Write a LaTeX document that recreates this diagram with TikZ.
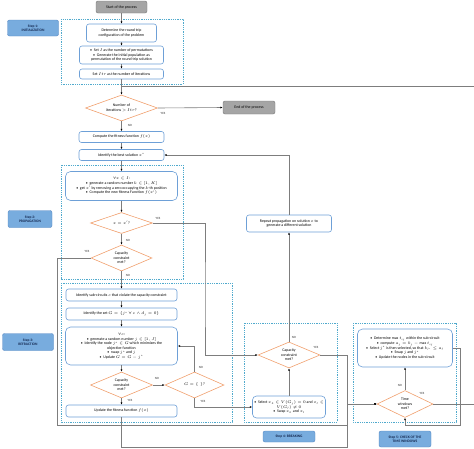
\RequirePackage{fix-cm}
\documentclass[tikz,border=0pt]{standalone}
\usepackage{amsmath}
\usepackage{fontspec}
\setmainfont{Carlito}
\usetikzlibrary{shapes.geometric,arrows.meta,positioning}
\definecolor{BoxBlue}{RGB}{110,160,215}
\definecolor{DiaOrange}{RGB}{241,160,110}
\definecolor{StepBlue}{RGB}{120,172,222}
\definecolor{StepEdge}{RGB}{85,135,195}
\definecolor{AreaBlue}{RGB}{80,170,205}
\definecolor{TermGray}{RGB}{165,165,165}
\definecolor{TermEdge}{RGB}{120,120,120}
\definecolor{LineGray}{RGB}{125,125,125}
\definecolor{StepText}{RGB}{20,40,80}

\begin{document}
\begin{tikzpicture}[x=1pt,y=-1pt,
  box/.style={draw=BoxBlue,fill=white,rounded corners=2.5pt,line width=0.6pt,
              align=center,inner sep=0.5pt,font=\fontsize{3.9}{4.6}\selectfont},
  dia/.style={diamond,draw=DiaOrange,fill=white,line width=0.6pt,inner sep=0pt,
              align=center,font=\fontsize{3.9}{4.6}\selectfont},
  term/.style={draw=TermEdge,fill=TermGray,rounded corners=2pt,line width=0.4pt,
               align=center,inner sep=0.5pt,font=\fontsize{3.9}{4.6}\selectfont},
  stepl/.style={draw=StepEdge,fill=StepBlue,rounded corners=2pt,line width=0.4pt,
                align=center,inner sep=0.5pt,text=StepText,
                font=\fontsize{3.6}{4.3}\selectfont\bfseries},
  area/.style={draw=AreaBlue,line width=0.5pt,dash pattern=on 1pt off 0.8pt},
  arr/.style={-{Latex[length=2.4pt,width=2pt,color=black]},line width=0.6pt,LineGray},
  ln/.style={line width=0.6pt,LineGray},
  lbl/.style={font=\fontsize{3.2}{3.8}\selectfont,text=black!80,inner sep=0pt},
]
\useasboundingbox (0,0) rectangle (474,448);
% dashed step areas
\draw[area] (61,19) rectangle (183,84);
\draw[area] (61,165) rectangle (183,279);
\draw[area] (61,283) rectangle (232,422);
\draw[area] (244,323) rectangle (337,422);
\draw[area] (353,323) rectangle (456,422);
% step labels
\node[stepl,minimum width=51pt,minimum height=16pt] (step1) at (33,28) {Step 1:\\INITIALIZATION};
\node[stepl,minimum width=44pt,minimum height=17pt] (step2) at (30,219) {Step 2:\\PROPAGATION};
\node[stepl,minimum width=51pt,minimum height=17pt] (step3) at (28,342) {Step 3:\\REFRACTION};
\node[stepl,minimum width=52pt,minimum height=11pt] (step4) at (289,436.5) {Step 4: BREAKING};
\node[stepl,minimum width=52pt,minimum height=16pt] (step5) at (405,439) {Step 5: CHECK OF THE\\TIME WINDOWS};
% step 1
\node[term,minimum width=51pt,minimum height=12pt] (start) at (121.5,7) {Start of the process};
\node[box,minimum width=70pt,minimum height=18pt] (det) at (121.5,33)
  {Determine the round trip\\configuration of the problem};
\node[box,minimum width=84pt,minimum height=18pt] (perm) at (121.5,55)
  {\textbullet\ \ Set $I$ as the number of permutations\\
   \textbullet\ \ Generate the initial population as\\permutation of the round trip solution};
\node[box,minimum width=84pt,minimum height=10pt] (itr) at (121.5,74)
  {Set $Itr$ as the number of iterations};
\node[dia,minimum width=72pt,minimum height=26pt,aspect=2.77] (iterdia) at (121.5,108)
  {Number of\\iterations $>$ $Itr$?};
\node[term,minimum width=52pt,minimum height=13pt] (endp) at (249,107.5) {End of the process};
\node[box,minimum width=85pt,minimum height=11pt] (fit) at (121.5,137)
  {Compute the fitness function $f(x)$};
\node[box,minimum width=85pt,minimum height=11pt] (best) at (121.5,155)
  {Identify the best solution $x^{*}$};
% step 2
\node[box,minimum width=112pt,minimum height=29pt,rounded corners=5pt] (propbox) at (121.5,186)
  {$\forall x \in I$:\\
   \textbullet\ \ generate a random number $k \in [1,K]$\\
   \textbullet\ \ get $x'$ by removing a zero occupying the $k$-th position\\
   \textbullet\ \ Compute the new fitness Function $f(x')$};
\node[dia,minimum width=62pt,minimum height=21pt,aspect=2.95] (xdia) at (121.5,223) {$x = x'$?};
\node[dia,minimum width=61pt,minimum height=26pt,aspect=2.35] (capdia2) at (121.5,258)
  {Capacity\\constraint\\met?};
\node[box,minimum width=85pt,minimum height=17pt] (repeat) at (289,223.5)
  {Repeat propagation on solution $x$ to\\generate a different solution};
% step 3
\node[box,minimum width=111pt,minimum height=12pt] (subc) at (121.5,295)
  {Identify sub-circuits $c$ that violate the capacity constraint};
\node[box,minimum width=111pt,minimum height=12pt] (setG) at (121.5,314)
  {Identify the set $G = \{ j^{*}\ \forall\, c \wedge d_j = 0\}$};
\node[box,minimum width=112pt,minimum height=38pt,rounded corners=5pt] (refrbox) at (121.5,346)
  {$\forall c$:\\
   \textbullet\ \ generate a random number $j \in [1,J]$\\
   \textbullet\ \ Identify the node $j^{*} \in G$ which minimizes the\\objective function\\
   \textbullet\ \ swap $j^{*}$ and $j$\\
   \textbullet\ \ Update $G = G - j^{*}$};
\node[dia,minimum width=62pt,minimum height=26pt,aspect=2.4] (capdia3) at (121.5,385)
  {Capacity\\constraint\\met?};
\node[dia,minimum width=59pt,minimum height=26pt,aspect=2.27] (gdia) at (194.5,385) {$G = \{\ \ \}$?};
\node[box,minimum width=111pt,minimum height=12pt] (updfit) at (121.5,411)
  {Update the fitness function $f(x)$};
% step 4
\node[dia,minimum width=62pt,minimum height=26pt,aspect=2.4] (capdia4) at (289,355)
  {Capacity\\constraint\\met?};
\node[box,minimum width=73pt,minimum height=22pt,rounded corners=4pt] (select) at (289,407)
  {\textbullet\ \ Select $x_k \in V(G_j) = 0$ and $x_l \in$\\$V(G_j) \neq 0$\\
   \textbullet\ \ Swap $x_k$ and $x_l$};
% step 5
\node[box,minimum width=95pt,minimum height=38pt,rounded corners=5pt] (twbox) at (405,348)
  {\textbullet\ \ Determine max $t_{ij}$ within the sub-circuit\\
   \textbullet\ \ compute $a_j = b_j - \max t_{ij}$\\
   \textbullet\ \ Select $j^{*}$ is then selected, so that $b_{j^{*}} \leq a_j$\\
   \textbullet\ \ Swap $j$ and $j^{*}$\\
   \textbullet\ \ Update the nodes in the sub-circuit};
\node[dia,minimum width=56pt,minimum height=27pt,aspect=2.07] (twdia) at (405,404)
  {Time\\windows\\met?};
% bend points
\coordinate (bx) at (205,300);
\coordinate (lx) at (57,425);
\coordinate (mx) at (347,404);
\coordinate (by) at (347,447);
\coordinate (rx) at (460,425);
\coordinate (ex1) at (477,404);
\coordinate (ex2) at (477,86);
\coordinate (jn) at (121.5,86);
% connectors
\draw[arr] (start) -- (det);
\draw[arr] (det) -- (perm);
\draw[arr] (perm) -- (itr);
\draw[arr] (itr) -- (iterdia);
\draw[arr] (iterdia.east) -- (endp.west);
\draw[arr] (iterdia.south) -- (fit);
\draw[arr] (fit) -- (best);
\draw[arr] (best) -- (propbox);
\draw[arr] (propbox) -- (xdia);
\draw[arr] (xdia.south) -- (capdia2.north);
\draw[arr] (xdia.east) -| (bx) |- (capdia4.west);
\draw[arr] (capdia2.west) -| (lx) -| (mx) -- (twdia.west);
\draw[arr] (capdia2.south) -- (subc);
\draw[arr] (subc) -- (setG);
\draw[arr] (setG) -- (refrbox);
\draw[arr] (refrbox) -- (capdia3.north);
\draw[arr] (capdia3.east) -- (gdia.west);
\draw[arr] (capdia3.south) -- (updfit);
\draw[arr] (gdia.north) |- (refrbox.east);
\draw[arr] (gdia.south) |- (select.west);
\draw[arr] (updfit.south) |- (by) -- (mx) -- (twdia.west);
\draw[arr] (select.north) -- (capdia4.south);
\draw[arr] (capdia4.north) -- (repeat.south);
\draw[arr] (repeat.north) |- (best.east);
\draw[arr] (capdia4.east) -| (mx) -- (twdia.west);
\draw[arr] (twdia.north) -- (twbox.south);
\draw[arr] (twbox.east) -| (rx) -| (twdia.south);
\draw[ln] (twdia.east) -- (ex1) -- (ex2) -- (jn);
% branch labels
\node[lbl] (y1) at (163,113) {YES};
\node[lbl] (n1) at (130,125) {NO};
\node[lbl] (y2) at (158,218) {YES};
\node[lbl] (n2) at (128,240) {NO};
\node[lbl] (y3) at (87,251) {YES};
\node[lbl] (n3) at (128,275) {NO};
\node[lbl] (n4) at (157,378) {NO};
\node[lbl] (y4) at (130,400) {YES};
\node[lbl] (n5) at (201,367) {NO};
\node[lbl] (y5) at (203,401) {YES};
\node[lbl] (n6) at (294,337) {NO};
\node[lbl] (y6) at (316,347) {YES};
\node[lbl] (n7) at (400,385) {NO};
\node[lbl] (y7) at (422,393) {YES};
\end{tikzpicture}
\end{document}
